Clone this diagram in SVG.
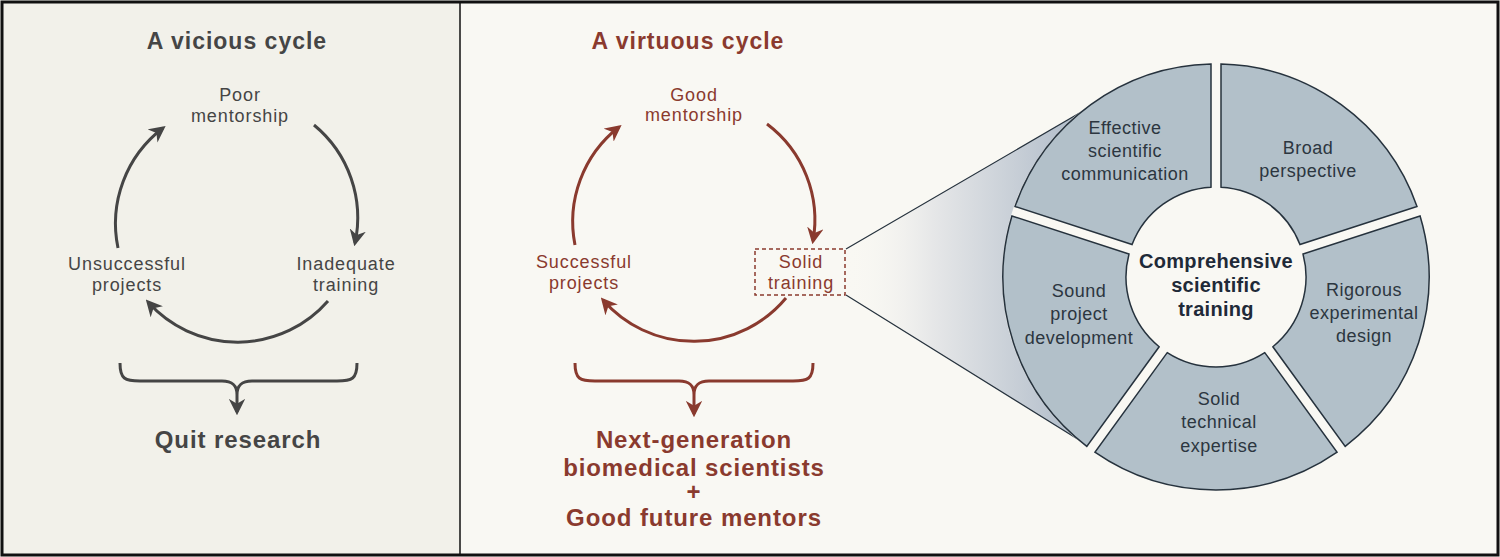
<svg xmlns="http://www.w3.org/2000/svg" width="1500" height="557" viewBox="0 0 1500 557">
<defs>
<style>
.t{font-family:"Liberation Sans",Arial,sans-serif;text-anchor:middle}
.g{fill:#454545}.r{fill:#8a3a2e}
.lab{font-size:18px;letter-spacing:0.9px}
.tt{font-size:23px;font-weight:bold;letter-spacing:1px}
.bb{font-size:24px;font-weight:bold;letter-spacing:0.9px}
.seg{fill:#b2c0c9;stroke:#26323d;stroke-width:1.5}
.st{font-size:18px;fill:#2c3640;letter-spacing:0.5px}
.ag{fill:none;stroke:#454545;stroke-width:3}
.ar{fill:none;stroke:#8a3a2e;stroke-width:3}
</style>
<marker id="mg" viewBox="0 0 10 10" refX="8" refY="5" markerWidth="5.5" markerHeight="5.5" orient="auto" markerUnits="strokeWidth"><path d="M0,0 L10,5 L0,10 L3,5 Z" fill="#454545"/></marker>
<marker id="mr" viewBox="0 0 10 10" refX="8" refY="5" markerWidth="5.5" markerHeight="5.5" orient="auto" markerUnits="strokeWidth"><path d="M0,0 L10,5 L0,10 L3,5 Z" fill="#8a3a2e"/></marker>
<linearGradient id="wg" x1="0" y1="0" x2="1" y2="0"><stop offset="0" stop-color="#f9f8f3" stop-opacity="0"/><stop offset="0.35" stop-color="#e6e7e8"/><stop offset="1" stop-color="#aab7c6"/></linearGradient>
</defs>
<rect x="0" y="0" width="1500" height="557" fill="#f9f8f3"/>
<rect x="2" y="2" width="458" height="553" fill="#f2f1ea"/>
<rect x="2" y="2" width="1496" height="553" fill="none" stroke="#111" stroke-width="3"/>
<line x1="460" y1="2" x2="460" y2="555" stroke="#111" stroke-width="1.5"/>

<g id="connectors">
<path class="ag" d="M314,125 A120,120 0 0 1 355,243" marker-end="url(#mg)"/>
<path class="ag" d="M328,301 A120,120 0 0 1 148,302" marker-end="url(#mg)"/>
<path class="ag" d="M118,248 A120,120 0 0 1 163,128" marker-end="url(#mg)"/>
<path class="ag" d="M120,363 C120,379 125,381 140,381 H222 C232,381 237,385 237,395 C237,385 242,381 252,381 H337 C352,381 357,379 357,363"/>
<path class="ag" d="M237,395 V412" marker-end="url(#mg)"/>
<path class="ar" d="M767,124 A120,120 0 0 1 813,241" marker-end="url(#mr)"/>
<path class="ar" d="M786,298 A120,120 0 0 1 603,300" marker-end="url(#mr)"/>
<path class="ar" d="M575,245 A120,120 0 0 1 619,127" marker-end="url(#mr)"/>
<path class="ar" d="M575,363 C575,379 580,381 595,381 H679 C689,381 694,385 694,395 C694,385 699,381 709,381 H793 C808,381 813,379 813,363"/>
<path class="ar" d="M694,395 V414" marker-end="url(#mr)"/>
<path d="M846,249 L1095,104 L1092,448 L846,295 Z" fill="url(#wg)"/>
<path d="M846,249 L1095,104 M846,295 L1092,448" stroke="#26323d" stroke-width="1.2" fill="none"/>
<circle cx="1216" cy="277" r="214" fill="#f9f8f3"/>
</g>

<g id="title-left"><text class="t g tt" x="237" y="49">A vicious cycle</text></g>
<g id="poor"><text class="t g lab" x="240" y="101">Poor</text><text class="t g lab" x="240" y="122">mentorship</text></g>
<g id="unsuccessful"><text class="t g lab" x="127" y="270">Unsuccessful</text><text class="t g lab" x="127" y="291">projects</text></g>
<g id="inadequate"><text class="t g lab" x="346" y="270">Inadequate</text><text class="t g lab" x="346" y="291">training</text></g>
<g id="quit"><text class="t g bb" x="238" y="448">Quit research</text></g>

<g id="title-right"><text class="t r tt" x="688" y="49">A virtuous cycle</text></g>
<g id="good"><text class="t r lab" x="694" y="101">Good</text><text class="t r lab" x="694" y="121">mentorship</text></g>
<g id="successful"><text class="t r lab" x="584" y="268">Successful</text><text class="t r lab" x="584" y="289">projects</text></g>
<g id="solid"><rect x="755" y="249" width="90" height="46" fill="none" stroke="#8a3a2e" stroke-width="1.5" stroke-dasharray="4,3"/><text class="t r lab" x="801" y="268">Solid</text><text class="t r lab" x="801" y="289">training</text></g>
<g id="next"><text class="t r bb" x="694" y="448">Next-generation</text><text class="t r bb" x="694" y="476">biomedical scientists</text><text class="t r bb" x="694" y="500">+</text><text class="t r bb" x="694" y="526">Good future mentors</text></g>

<g id="broad"><path class="seg" d="M1221,64.06 A213,213 0 0 1 1416.99,206.45 L1299.93,244.48 A90,90 0 0 0 1221,187.14 Z"/><text class="t st" x="1308" y="154">Broad</text><text class="t st" x="1308" y="177">perspective</text></g>
<g id="rigorous"><path class="seg" d="M1420.08,215.96 A213,213 0 0 1 1345.21,446.33 L1272.87,346.76 A90,90 0 0 0 1303.01,254 Z"/><text class="t st" x="1364" y="296">Rigorous</text><text class="t st" x="1364" y="319">experimental</text><text class="t st" x="1364" y="342">design</text></g>
<g id="technical"><path class="seg" d="M1337.12,452.21 A213,213 0 0 1 1094.88,452.21 L1167.22,352.64 A90,90 0 0 0 1264.78,352.64 Z"/><text class="t st" x="1219" y="405">Solid</text><text class="t st" x="1219" y="428">technical</text><text class="t st" x="1219" y="452">expertise</text></g>
<g id="sound"><path class="seg" d="M1086.79,446.33 A213,213 0 0 1 1011.92,215.96 L1128.99,254 A90,90 0 0 0 1159.14,346.76 Z"/><text class="t st" x="1079" y="297">Sound</text><text class="t st" x="1079" y="320">project</text><text class="t st" x="1079" y="344">development</text></g>
<g id="effective"><path class="seg" d="M1015.02,206.45 A213,213 0 0 1 1211,64.06 L1211,187.14 A90,90 0 0 0 1132.08,244.48 Z"/><text class="t st" x="1125" y="134">Effective</text><text class="t st" x="1125" y="157">scientific</text><text class="t st" x="1125" y="180">communication</text></g>
<g id="center"><circle cx="1216" cy="277" r="88" fill="#f9f8f3"/><text class="t" x="1216" y="268" font-size="20" font-weight="bold" fill="#1f2a38" letter-spacing="0.3">Comprehensive</text><text class="t" x="1216" y="292" font-size="20" font-weight="bold" fill="#1f2a38" letter-spacing="0.3">scientific</text><text class="t" x="1216" y="316" font-size="20" font-weight="bold" fill="#1f2a38" letter-spacing="0.3">training</text></g>
</svg>
